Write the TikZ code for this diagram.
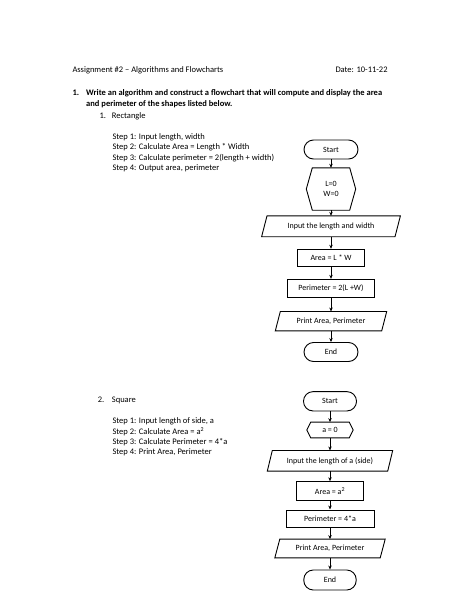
\documentclass[tikz,border=0pt]{standalone}
\usepackage{fontspec}
\setmainfont{Carlito}
\usetikzlibrary{arrows.meta}
\newcommand\drawio[2]{\draw[fline] ([xshift=#2]#1.north west) -- ([xshift=#2]#1.north east) -- ([xshift=-#2]#1.south east) -- ([xshift=-#2]#1.south west) -- cycle;}
\newcommand\drawhex[2]{\draw[fline] (#1.west) -- ([xshift=#2]#1.north west) -- ([xshift=-#2]#1.north east) -- (#1.east) -- ([xshift=-#2]#1.south east) -- ([xshift=#2]#1.south west) -- cycle;}
\tikzset{
  fline/.style={line width=0.9pt, draw=black},
  txt/.style={anchor=base west, inner sep=0pt, font=\fontsize{8.5}{10.5}\selectfont},
  btxt/.style={inner sep=0pt, font=\fontsize{8}{9.5}\selectfont, align=center},
  term/.style={btxt, fline, draw, rounded corners=9.5pt},
  proc/.style={btxt, fline, draw, rectangle},
  plain/.style={btxt},
  arr/.style={fline, -{Stealth[length=4pt,width=3.4pt]}}
}
\begin{document}
\begin{tikzpicture}[x=1pt,y=-1pt]
\fill[white] (0,0) rectangle (474,613);
\useasboundingbox (0,0) rectangle (474,613);

% header
\node[txt] (hdr) at (72.3,72.3) {Assignment \#2 – Algorithms and Flowcharts};
\node[txt] (date) at (335.3,72.3) {Date: 10-11-22};
\node[txt] (q1n) at (72.3,95.7) {\textbf{1.}};
\node[txt] (q1a) at (86,95.7) {\textbf{Write an algorithm and construct a flowchart that will compute and display the area}};
\node[txt] (q1b) at (86,106.5) {\textbf{and perimeter of the shapes listed below.}};

% rectangle algorithm
\node[txt] (r1n) at (99.3,118) {1.};
\node[txt] (r1t) at (111.7,118) {Rectangle};
\node[txt] (rs1) at (112.3,139) {Step 1: Input length, width};
\node[txt] (rs2) at (112.3,149.5) {Step 2: Calculate Area = Length * Width};
\node[txt] (rs3) at (112.3,160) {Step 3: Calculate perimeter = 2(length + width)};
\node[txt] (rs4) at (112.3,170.5) {Step 4: Output area, perimeter};

% square algorithm
\node[txt] (s2n) at (97.7,402.3) {2.};
\node[txt] (s2t) at (111.7,402.3) {Square};
\node[txt] (ss1) at (112.3,423.7) {Step 1: Input length of side, a};
\node[txt] (ss2) at (112.3,434) {Step 2: Calculate Area = a\textsuperscript{2}};
\node[txt] (ss3) at (112.3,444.3) {Step 3: Calculate Perimeter = 4*a};
\node[txt] (ss4) at (112.3,454.7) {Step 4: Print Area, Perimeter};

% flowchart 1
\node[term, minimum width=54pt, minimum height=19pt] (a1) at (331,149.5) {Start};
\node[plain, minimum width=49pt, minimum height=42pt] (a2) at (331,189) {L=0\\W=0};
\drawhex{a2}{6pt}
\node[plain, minimum width=133pt, minimum height=20.5pt] (a3) at (331,226.3) {Input the length and width};
\drawio{a3}{2.7pt}
\node[proc, minimum width=67pt, minimum height=17.5pt] (a4) at (331,258) {Area = L * W};
\node[proc, minimum width=87pt, minimum height=18pt] (a5) at (331,288.3) {Perimeter = 2(L +W)};
\node[plain, minimum width=106pt, minimum height=19pt] (a6) at (331,321.2) {Print Area, Perimeter};
\drawio{a6}{2.5pt}
\node[term, minimum width=54pt, minimum height=19pt] (a7) at (331,352) {End};
\draw[arr] (a1) -- (a2);
\draw[arr] (a2) -- (a3);
\draw[arr] (a3) -- (a4);
\draw[arr] (a4) -- (a5);
\draw[arr] (a5) -- (a6);
\draw[arr] (a6) -- (a7);

% flowchart 2
\node[term, minimum width=53pt, minimum height=19.3pt] (b1) at (330,401.3) {Start};
\node[plain, minimum width=46pt, minimum height=15.4pt] (b2) at (330,430) {a = 0};
\drawhex{b2}{4pt}
\node[plain, minimum width=120pt, minimum height=20.3pt] (b3) at (330,460.8) {Input the length of a (side)};
\drawio{b3}{2.5pt}
\node[proc, minimum width=67pt, minimum height=18.3pt] (b4) at (330,490.8) {Area = a\textsuperscript{2}};
\node[proc, minimum width=88pt, minimum height=17.3pt] (b5) at (330,518.6) {Perimeter = 4*a};
\node[plain, minimum width=105pt, minimum height=18.4pt] (b6) at (330,548.5) {Print Area, Perimeter};
\drawio{b6}{2.5pt}
\node[term, minimum width=52.4pt, minimum height=20pt] (b7) at (330,580) {End};
\draw[arr] (b1) -- (b2);
\draw[arr] (b2) -- (b3);
\draw[arr] (b3) -- (b4);
\draw[arr] (b4) -- (b5);
\draw[arr] (b5) -- (b6);
\draw[arr] (b6) -- (b7);
\end{tikzpicture}
\end{document}
